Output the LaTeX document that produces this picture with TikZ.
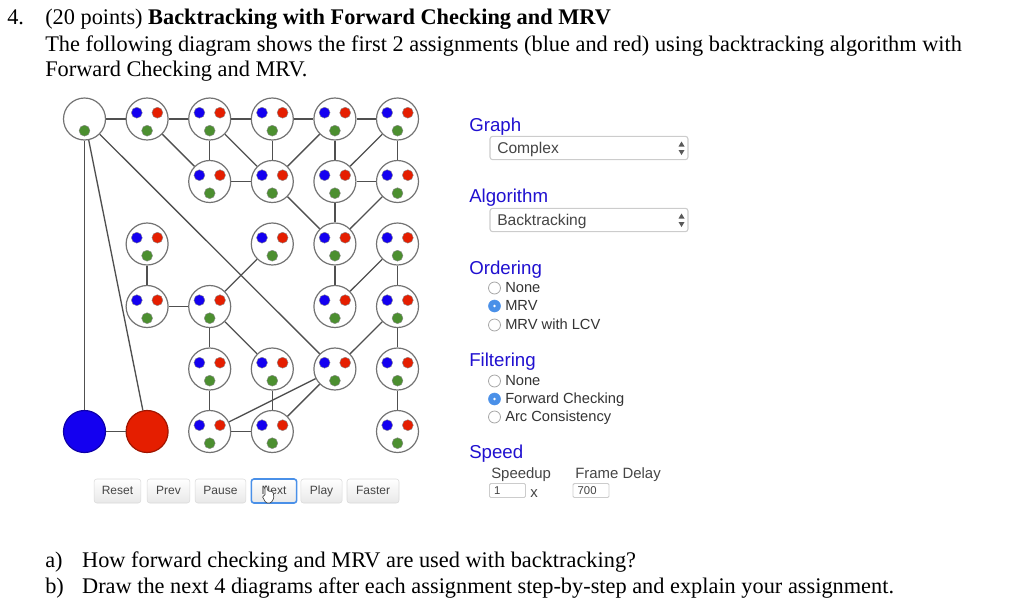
\documentclass[tikz,border=0pt]{standalone}
\usepackage{fontspec}
\setmainfont{Liberation Serif}
\newfontfamily\uifont{Liberation Sans}
\definecolor{domblue}{HTML}{1400F0}
\definecolor{domred}{HTML}{E51E00}
\definecolor{domgreen}{HTML}{4C8F30}
\definecolor{headblue}{HTML}{2010D0}
\definecolor{edgegray}{HTML}{505050}
\definecolor{uitext}{HTML}{454545}
\definecolor{radioblue}{HTML}{4A90E8}
\tikzset{
  varnode/.style={circle,draw=black!55,fill=white,line width=.9pt,minimum size=31.5pt,inner sep=0pt},
  domdot/.style={circle,draw=black!45,line width=.3pt,minimum size=8.2pt,inner sep=0pt},
  edge/.style={edgegray,line width=1pt},
  body/.style={anchor=base west,inner sep=0pt,font=\fontsize{16.75}{20}\selectfont},
  heading/.style={anchor=base west,inner sep=0pt,text=headblue,font=\uifont\fontsize{14}{17}\selectfont},
  uilabel/.style={anchor=base west,inner sep=0pt,text=uitext,font=\uifont\fontsize{11.2}{13}\selectfont},
  radiolabel/.style={anchor=base west,inner sep=0pt,text=black!80,font=\uifont\fontsize{11}{13}\selectfont},
  selectbox/.style={draw=black!20,fill=white,rounded corners=2pt,line width=.8pt,minimum width=148.5pt,minimum height=17.5pt,inner sep=0pt},
  button/.style={draw=black!15,top color=white,bottom color=black!9,rounded corners=2pt,minimum height=18pt,inner sep=0pt,text height=6.6pt,text depth=2pt,text=uitext,font=\uifont\fontsize{9}{11}\selectfont},
  radiooff/.style={circle,draw=black!35,fill=white,line width=.6pt,minimum size=9pt,inner sep=0pt},
  radioon/.style={circle,draw=radioblue,fill=radioblue,minimum size=9pt,inner sep=0pt},
  inputbox/.style={draw=black!20,fill=white,rounded corners=1pt,line width=.7pt,minimum height=10.5pt,inner sep=0pt,text=uitext,font=\uifont\fontsize{8.5}{10}\selectfont},
}
\begin{document}
\begin{tikzpicture}[x=.75pt,y=-.75pt]
  \useasboundingbox (0,0) rectangle (1024,607);
  % question text
  \node[body] (num) at (7,24) {4.};
  \node[body] (title) at (45,24) {(20 points) \textbf{Backtracking with Forward Checking and MRV}};
  \node[body] (lineone) at (45,51) {The following diagram shows the first 2 assignments (blue and red) using backtracking algorithm with};
  \node[body] (linetwo) at (45,76) {Forward Checking and MRV.};
  \node[body] (parta) at (45,567) {\makebox[27.7pt][l]{a)}How forward checking and MRV are used with backtracking?};
  \node[body] (partb) at (45,593) {\makebox[27.7pt][l]{b)}Draw the next 4 diagrams after each assignment step-by-step and explain your assignment.};

  % variables, named v<column><row>
  \foreach \c/\r in {1/0,2/0,3/0,4/0,5/0,2/1,3/1,4/1,5/1,1/2,3/2,4/2,5/2,1/3,2/3,4/3,5/3,2/4,3/4,4/4,5/4,2/5,3/5,5/5} {
    \node[varnode] (v\c\r) at (84.5+62.6*\c,119+62.5*\r) {};
    \node[domdot,fill=domblue] (v\c\r b) at ([shift={(-10.3,-6.3)}]v\c\r.center) {};
    \node[domdot,fill=domred] (v\c\r r) at ([shift={(10.3,-6.3)}]v\c\r.center) {};
    \node[domdot,fill=domgreen] (v\c\r g) at ([shift={(0,11.7)}]v\c\r.center) {};
  }
  \node[varnode] (v00) at (84.5,119) {};
  \node[domdot,fill=domgreen] (v00g) at ([shift={(0,11.7)}]v00.center) {};
  \node[varnode,fill=domblue,draw=domblue!70!black] (v05) at (84.5,431.5) {};
  \node[varnode,fill=domred,draw=domred!70!black] (v15) at (147.1,431.5) {};

  % constraints
  \foreach \a/\b in {v00/v10,v10/v20,v20/v30,v30/v40,v40/v50,v00/v05,v00/v15,v00/v44,v10/v21,v20/v21,v20/v31,
    v30/v31,v40/v31,v40/v41,v50/v41,v50/v51,v21/v31,v41/v51,v31/v42,v41/v42,v51/v42,v42/v43,v52/v43,v52/v53,
    v53/v44,v53/v54,v54/v55,v12/v13,v13/v23,v23/v24,v24/v25,v32/v23,v23/v34,v34/v35,v44/v35,v44/v25,v25/v35,v05/v15} {
    \draw[edge] (\a) -- (\b);
  }

  % buttons
  \node[button,minimum width=35pt] (reset) at (117.5,491) {Reset};
  \node[button,minimum width=32pt] (prev) at (168.5,491) {Prev};
  \node[button,minimum width=38pt] (pause) at (220.5,491) {Pause};
  \node[button,minimum width=34pt,draw=radioblue,line width=1.2pt] (next) at (274,491) {Next};
  \node[button,minimum width=31pt] (play) at (321.5,491) {Play};
  \node[button,minimum width=39pt] (faster) at (373,491) {Faster};
  % hand cursor
  \draw[black!75,fill=white,line width=.5pt,rounded corners=1pt] (265,486) -- (267,486) -- (267.5,491) -- (273,491.5) -- (274,498) -- (271,503) -- (266,503) -- (262,496) -- (265,496) -- cycle;

  % side panel
  \node[heading] (graph) at (469,131) {Graph};
  \node[selectbox] (graphbox) at (589,148) {};
  \node[uilabel,font=\uifont\fontsize{11.7}{13}\selectfont] (complex) at (497,153) {Complex};
  \fill[black!65] (678.5,146.5) -- (684.5,146.5) -- (681.5,141.5) -- cycle (678.5,150) -- (684.5,150) -- (681.5,155) -- cycle;

  \node[heading] (algorithm) at (469,202) {Algorithm};
  \node[selectbox] (algobox) at (589,220) {};
  \node[uilabel,font=\uifont\fontsize{11.7}{13}\selectfont] (backtracking) at (497,225) {Backtracking};
  \fill[black!65] (678.5,218.5) -- (684.5,218.5) -- (681.5,213.5) -- cycle (678.5,222) -- (684.5,222) -- (681.5,227) -- cycle;

  \node[heading] (ordering) at (469,274) {Ordering};
  \node[radiooff] (ordnone) at (494.5,288) {};
  \node[radiolabel] (ordnonetext) at (505,292) {None};
  \node[radioon] (ordmrv) at (494.5,306) {};
  \fill[white] (ordmrv) circle (1pt);
  \node[radiolabel] (ordmrvtext) at (505,310) {MRV};
  \node[radiooff] (ordlcv) at (494.5,325) {};
  \node[radiolabel] (ordlcvtext) at (505,329) {MRV with LCV};

  \node[heading] (filtering) at (469,366) {Filtering};
  \node[radiooff] (filnone) at (494.5,381) {};
  \node[radiolabel] (filnonetext) at (505,385) {None};
  \node[radioon] (filfc) at (494.5,399) {};
  \fill[white] (filfc) circle (1pt);
  \node[radiolabel] (filfctext) at (505,403) {Forward Checking};
  \node[radiooff] (filarc) at (494.5,417) {};
  \node[radiolabel] (filarctext) at (505,421) {Arc Consistency};

  \node[heading] (speed) at (469,458) {Speed};
  \node[uilabel] (speedup) at (491,478) {Speedup};
  \node[uilabel] (delay) at (575,478) {Frame Delay};
  \node[inputbox,minimum width=27pt,text width=24pt,align=left] (speedbox) at (507.5,490.5) {\hspace*{2pt}1};
  \node[uilabel] (times) at (530,497) {x};
  \node[inputbox,minimum width=27pt,text width=24pt,align=left] (delaybox) at (591,490.5) {\hspace*{2pt}700};
\end{tikzpicture}
\end{document}
